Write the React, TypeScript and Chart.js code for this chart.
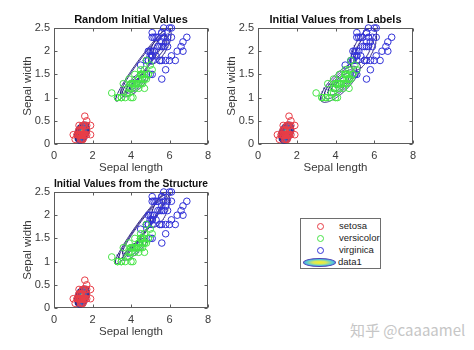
import React, { useEffect, useRef } from 'react';
import { Chart, registerables } from 'chart.js';
Chart.register(...registerables);

// ---------------- data (Fisher iris, petal measurements as plotted) ----------------
const setosaLength = [1.4,1.4,1.3,1.5,1.4,1.7,1.4,1.5,1.4,1.5,1.5,1.6,1.4,1.1,1.2,1.5,1.3,1.4,1.7,1.5,1.7,1.5,1.0,1.7,1.9,1.6,1.6,1.5,1.4,1.6,1.6,1.5,1.5,1.4,1.5,1.2,1.3,1.4,1.3,1.5,1.3,1.3,1.3,1.6,1.9,1.4,1.6,1.4,1.5,1.4];
const setosaWidth = [0.2,0.2,0.2,0.2,0.2,0.4,0.3,0.2,0.2,0.1,0.2,0.2,0.1,0.1,0.2,0.4,0.4,0.3,0.3,0.3,0.2,0.4,0.2,0.5,0.2,0.2,0.4,0.2,0.2,0.2,0.2,0.4,0.1,0.2,0.2,0.2,0.2,0.1,0.2,0.2,0.3,0.3,0.2,0.6,0.4,0.3,0.2,0.2,0.2,0.2];
const versicolorLength = [4.7,4.5,4.9,4.0,4.6,4.5,4.7,3.3,4.6,3.9,3.5,4.2,4.0,4.7,3.6,4.4,4.5,4.1,4.5,3.9,4.8,4.0,4.9,4.7,4.3,4.4,4.8,5.0,4.5,3.5,3.8,3.7,3.9,5.1,4.5,4.5,4.7,4.4,4.1,4.0,4.4,4.6,4.0,3.3,4.2,4.2,4.2,4.3,3.0,4.1];
const versicolorWidth = [1.4,1.5,1.5,1.3,1.5,1.3,1.6,1.0,1.3,1.4,1.0,1.5,1.0,1.4,1.3,1.4,1.5,1.0,1.5,1.1,1.8,1.3,1.5,1.2,1.3,1.4,1.4,1.7,1.5,1.0,1.1,1.0,1.2,1.6,1.5,1.6,1.5,1.3,1.3,1.3,1.2,1.4,1.2,1.0,1.3,1.2,1.3,1.3,1.1,1.3];
const virginicaLength = [6.0,5.1,5.9,5.6,5.8,6.6,4.5,6.3,5.8,6.1,5.1,5.3,5.5,5.0,5.1,5.3,5.5,6.7,6.9,5.0,5.7,4.9,6.7,4.9,5.7,6.0,4.8,4.9,5.6,5.8,6.1,6.4,5.6,5.1,5.6,6.1,5.6,5.5,4.8,5.4,5.6,5.1,5.1,5.9,5.7,5.2,5.0,5.2,5.4,5.1];
const virginicaWidth = [2.5,1.9,2.1,1.8,2.2,2.1,1.7,1.8,1.8,2.5,2.0,1.9,2.1,2.0,2.4,2.3,1.8,2.2,2.3,1.5,2.3,2.0,2.0,1.8,2.1,1.8,1.8,1.8,2.1,1.6,1.9,2.0,2.2,1.5,1.4,2.3,2.4,1.8,1.8,2.1,2.4,2.3,1.9,2.3,2.5,2.3,1.9,2.0,2.3,1.8];

const xTicks = [0, 2, 4, 6, 8];
const yTicks = [0, 0.5, 1, 1.5, 2, 2.5];
const plotTitles = ['Random Initial Values', 'Initial Values from Labels', 'Initial Values from the Structure'];
const xLabel = 'Sepal length';
const yLabel = 'Sepal width';
const legendLabels = ['setosa', 'versicolor', 'virginica', 'data1'];
const watermark = '知乎 @caaaamel';

// fitted mixture components: mean, covariance [s11, s12, s22], contour radii (Mahalanobis)
const setosaMean = [1.462, 0.246];
const setosaCov = [0.030, 0.006, 0.011];
const setosaRadii = [2.2, 2.0, 1.8, 1.6, 1.45, 1.3, 1.15, 1.0, 0.85, 0.7, 0.55, 0.38];

const randomMeans = [[4.62, 1.72], [4.25, 1.3], [5.5, 2.1]];
const randomCovs = [[0.383, 0.207, 0.120], [0.16, 0.05, 0.025], [0.12, 0.055, 0.05]];
const randomRadii = [[2.3, 1.9], [1.8, 1.3, 0.8], [1.7, 1.1]];

const labelsMeans = [[4.26, 1.326], [5.45, 2.05]];
const labelsCovs = [[0.216, 0.072, 0.038], [0.14, 0.06, 0.065]];
const labelsRadii = [[2.2, 1.8, 1.4, 1.0, 0.6], [1.8, 1.2]];

const structMeans = [[4.6, 1.75], [4.2, 1.27], [5.5, 2.1]];
const structCovs = [[0.383, 0.207, 0.120], [0.14, 0.045, 0.02], [0.1, 0.045, 0.05]];
const structRadii = [[2.3, 2.0, 1.7], [1.7, 1.1], [1.6]];

// ---------------- styling ----------------
const FONT = '"Liberation Sans", Arial, Helvetica, sans-serif';
const COL_SETOSA = 'rgb(232,60,70)';
const COL_VERSI = 'rgb(70,228,70)';
const COL_VIRG = 'rgb(50,50,215)';
const TEXT = '#3a3a3a';

const parulaStops = [[53,42,135],[15,92,221],[18,125,216],[7,156,207],[21,177,180],[89,189,140],[165,190,107],[225,185,82],[252,206,46],[245,229,29],[249,251,14]];
function parula(f: number) {
  const c = Math.max(0, Math.min(1, f)) * 10;
  const i = Math.min(9, Math.floor(c));
  const t = c - i;
  const a = parulaStops[i], b = parulaStops[i + 1];
  const m = (k: number) => Math.round(a[k] + (b[k] - a[k]) * t);
  return `rgb(${m(0)},${m(1)},${m(2)})`;
}

function ellipsePoints(mean: number[], cov: number[], r: number) {
  const l11 = Math.sqrt(cov[0]);
  const l21 = cov[1] / l11;
  const l22 = Math.sqrt(Math.max(cov[2] - l21 * l21, 1e-9));
  const out: { x: number; y: number }[] = [];
  const n = 96;
  for (let k = 0; k <= n; k++) {
    const t = (2 * Math.PI * k) / n;
    const c = Math.cos(t), s = Math.sin(t);
    out.push({ x: mean[0] + r * l11 * c, y: mean[1] + r * (l21 * c + l22 * s) });
  }
  return out;
}

function peak(cov: number[], w: number) {
  const det = cov[0] * cov[2] - cov[1] * cov[1];
  return w / (2 * Math.PI * Math.sqrt(det));
}

function ringDatasets(means: number[][], covs: number[][], radii: number[][]) {
  const allMeans = [setosaMean, ...means];
  const allCovs = [setosaCov, ...covs];
  const allRadii = [setosaRadii, ...radii];
  const w = 1 / allMeans.length;
  const rings: { pts: any[]; level: number }[] = [];
  allMeans.forEach((m, j) => {
    const p = peak(allCovs[j], w);
    allRadii[j].forEach((r) => {
      rings.push({ pts: ellipsePoints(m, allCovs[j], r), level: p * Math.exp((-r * r) / 2) });
    });
  });
  const lv = rings.map((r) => r.level);
  const lo = Math.min(...lv), hi = Math.max(...lv);
  return rings.map((r) => ({
    type: 'line' as const,
    data: r.pts,
    showLine: true,
    borderColor: parula(Math.pow((r.level - lo) / (hi - lo), 3)),
    borderWidth: 1,
    pointRadius: 0,
    fill: false,
    tension: 0,
  }));
}

function pts(xs: number[], ys: number[]) {
  return xs.map((x, i) => ({ x, y: ys[i] }));
}

const framePlugin = {
  id: 'frame',
  beforeDatasetsDraw(chart: any) {
    const { ctx, chartArea, scales } = chart;
    const { left, top, right, bottom } = chartArea;
    ctx.save();
    ctx.strokeStyle = '#5c5c5c';
    ctx.lineWidth = 1;
    const L = Math.round(left) + 0.5, T = Math.round(top) + 0.5, R = Math.round(right) - 0.5, B = Math.round(bottom) - 0.5;
    ctx.strokeRect(L, T, R - L, B - T);
    ctx.beginPath();
    xTicks.forEach((v) => {
      const px = Math.round(scales.x.getPixelForValue(v)) + 0.5;
      ctx.moveTo(px, B); ctx.lineTo(px, B - 3);
      ctx.moveTo(px, T); ctx.lineTo(px, T + 3);
    });
    yTicks.forEach((v) => {
      const py = Math.round(scales.y.getPixelForValue(v)) + 0.5;
      ctx.moveTo(L, py); ctx.lineTo(L + 3, py);
      ctx.moveTo(R, py); ctx.lineTo(R - 3, py);
    });
    ctx.stroke();
    ctx.restore();
  },
};

function makeConfig(title: string, means: number[][], covs: number[][], radii: number[][], rightPad: number): any {
  const scatterBase = { pointStyle: 'circle', pointRadius: 3.3, borderWidth: 1, backgroundColor: 'rgba(0,0,0,0)', clip: false, showLine: false };
  return {
    type: 'scatter',
    data: {
      datasets: [
        { ...scatterBase, label: legendLabels[0], data: pts(setosaLength, setosaWidth), borderColor: COL_SETOSA },
        { ...scatterBase, label: legendLabels[1], data: pts(versicolorLength, versicolorWidth), borderColor: COL_VERSI },
        { ...scatterBase, label: legendLabels[2], data: pts(virginicaLength, virginicaWidth), borderColor: COL_VIRG },
        ...ringDatasets(means, covs, radii),
      ],
    },
    options: {
      animation: false,
      responsive: false,
      events: [],
      layout: { padding: { left: 0, right: rightPad, top: 0, bottom: 0 } },
      plugins: {
        legend: { display: false },
        tooltip: { enabled: false },
        title: {
          display: true,
          text: title,
          fullSize: false,
          color: '#111111',
          font: { family: FONT, size: 11, weight: 'bold' },
          padding: { top: 13.4, bottom: 1.4 },
        },
      },
      scales: {
        x: {
          type: 'linear',
          min: 0,
          max: 8,
          afterBuildTicks: (s: any) => { s.ticks = xTicks.map((v) => ({ value: v })); },
          afterFit: (s: any) => { s.height = 31; },
          grid: { display: false, drawTicks: false, tickLength: 0 },
          border: { display: false },
          ticks: { padding: 5, color: TEXT, font: { family: FONT, size: 11 }, maxRotation: 0, callback: (v: any) => String(v) },
          title: { display: true, text: xLabel, color: TEXT, font: { family: FONT, size: 11.5 }, padding: { top: 0, bottom: 0 } },
        },
        y: {
          type: 'linear',
          min: 0,
          max: 2.5,
          afterBuildTicks: (s: any) => { s.ticks = yTicks.map((v) => ({ value: v })); },
          afterFit: (s: any) => { s.width = 54; },
          grid: { display: false, drawTicks: false, tickLength: 0 },
          border: { display: false },
          ticks: { padding: 4, color: TEXT, font: { family: FONT, size: 11 }, callback: (v: any) => String(v) },
          title: { display: true, text: yLabel, color: TEXT, font: { family: FONT, size: 11.5 }, padding: { top: 21, bottom: 0 } },
        },
      },
    },
    plugins: [framePlugin],
  };
}

function Panel(props: { left: number; top: number; cfg: () => any }) {
  const ref = useRef<HTMLCanvasElement | null>(null);
  useEffect(() => {
    if (!ref.current) return;
    const chart = new Chart(ref.current, props.cfg());
    return () => chart.destroy();
  }, []);
  return (
    <canvas
      ref={ref}
      width={237}
      height={175}
      style={{ position: 'absolute', left: props.left, top: props.top, width: 237, height: 175 }}
    />
  );
}

function LegendBox() {
  const colors = [COL_SETOSA, COL_VERSI, COL_VIRG];
  return (
    <div
      style={{
        position: 'absolute', left: 300, top: 218, width: 81, height: 51, boxSizing: 'border-box',
        border: '1px solid #6e6e6e', background: '#fff', fontFamily: FONT, fontSize: 9.5, color: '#222',
      }}
    >
      {colors.map((c, i) => (
        <React.Fragment key={i}>
          <div
            style={{
              position: 'absolute', left: 16, top: 4 + 12 * i, width: 5, height: 5, borderRadius: '50%',
              border: `1.3px solid ${c}`,
            }}
          />
          <div style={{ position: 'absolute', left: 38, top: 1 + 12 * i, lineHeight: '12px', whiteSpace: 'nowrap' }}>
            {legendLabels[i]}
          </div>
        </React.Fragment>
      ))}
      <div
        style={{
          position: 'absolute', left: 2, top: 39, width: 33, height: 9, boxSizing: 'border-box', borderRadius: '50%',
          border: '1px solid #4a44b4', background: 'radial-gradient(ellipse at center, #f4f02a 0%, #d8e85a 30%, #59c8d8 60%, #3c7fe0 85%, #ffffff 100%)',
        }}
      />
      <div style={{ position: 'absolute', left: 37, top: 37, lineHeight: '12px', whiteSpace: 'nowrap' }}>{legendLabels[3]}</div>
    </div>
  );
}

export default function App() {
  return (
    <div style={{ position: 'fixed', left: 0, top: 0, width: 474, height: 350, background: '#ffffff', overflow: 'hidden' }}>
      <Panel left={0} top={0} cfg={() => makeConfig(plotTitles[0], randomMeans, randomCovs, randomRadii, 29)} />
      <Panel left={204} top={0} cfg={() => makeConfig(plotTitles[1], labelsMeans, labelsCovs, labelsRadii, 28)} />
      <Panel left={0} top={164} cfg={() => makeConfig(plotTitles[2], structMeans, structCovs, structRadii, 29)} />
      <LegendBox />
      <div
        style={{
          position: 'absolute', left: 350, top: 320, lineHeight: '20px', fontSize: 15, whiteSpace: 'nowrap',
          fontFamily: '"Noto Sans CJK SC", "Noto Sans", sans-serif', color: '#c6c6c6',
        }}
      >
        {watermark}
      </div>
    </div>
  );
}
